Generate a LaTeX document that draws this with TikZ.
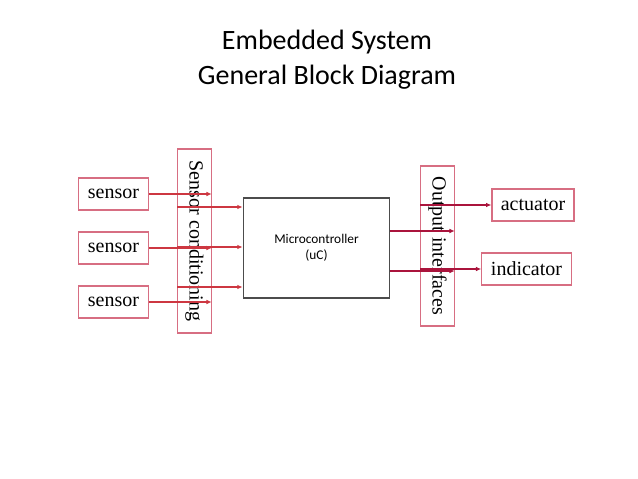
\documentclass[tikz,border=0pt]{standalone}
\usepackage{fontspec}
\setmainfont{Liberation Serif}
\newfontfamily\calfont{Carlito}
\usetikzlibrary{arrows.meta}
\definecolor{bx}{RGB}{215,110,130}
\definecolor{ar}{RGB}{205,55,65}
\definecolor{ar2}{RGB}{170,20,60}
\tikzset{
 pbox/.style={draw=bx,line width=0.9pt,inner sep=0pt,font=\fontsize{15}{15}\selectfont},
 sig/.style={draw=ar,line width=0.8pt,-{Latex[length=4pt,width=3.5pt]}},
 sig2/.style={draw=ar2,line width=0.8pt,-{Latex[length=4pt,width=3.5pt]}}
}
\begin{document}
\begin{tikzpicture}[x=0.75pt,y=-0.75pt]
\useasboundingbox (0,0) rectangle (638,478);
\node[font=\calfont\fontsize{21}{26}\selectfont,align=center] (title) at (327,60) {Embedded System\\General Block Diagram};
\node[pbox,minimum width=52.5pt,minimum height=24pt] (s1) at (113.5,194) {sensor};
\node[pbox,minimum width=52.5pt,minimum height=24pt] (s2) at (113.5,248) {sensor};
\node[pbox,minimum width=52.5pt,minimum height=24pt] (s3) at (113.5,302) {sensor};
\node[pbox,minimum width=138pt,minimum height=25pt,rotate=-90] (sc) at (194.5,241) {Sensor conditioning};
\node[draw=black!70,line width=0.8pt,minimum width=110pt,minimum height=75pt,align=center,font=\calfont\fontsize{10}{12}\selectfont] (mc) at (316.5,248) {Microcontroller\\(uC)};
\node[pbox,minimum width=120pt,minimum height=25pt,rotate=-90] (oi) at (437.5,246) {Output interfaces};
\node[pbox,minimum width=61.5pt,minimum height=24pt] (ac) at (533,205) {actuator};
\node[pbox,minimum width=67pt,minimum height=24pt] (in) at (526.5,269) {indicator};
\draw[sig] (s1.east) -- (s1.east -| sc.north);
\draw[sig] (s2.east) -- (s2.east -| sc.north);
\draw[sig] (s3.east) -- (s3.east -| sc.north);
\foreach \y in {207,247,287} \draw[sig] (sc.south |- 0,\y) -- (mc.west |- 0,\y);
\foreach \y in {231,271} \draw[sig2] (mc.east |- 0,\y) -- (oi.north |- 0,\y);
\draw[sig2] (oi.south |- ac.west) -- (ac.west);
\draw[sig2] (oi.south |- in.west) -- (in.west);
\end{tikzpicture}
\end{document}
